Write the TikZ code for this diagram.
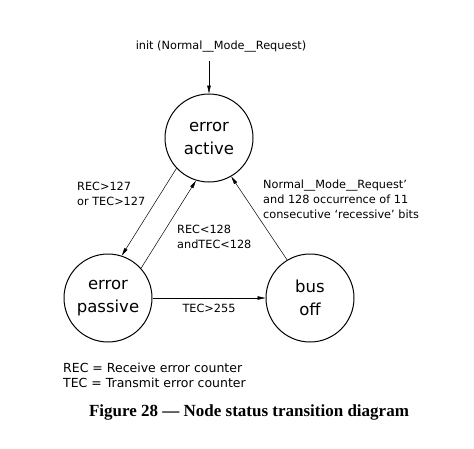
\documentclass[tikz,border=0pt]{standalone}
\usepackage{fontspec}
\setmainfont{Liberation Serif}
\newfontfamily\isofont{DejaVu Sans}
\usetikzlibrary{arrows.meta, positioning}
\tikzset{
  state/.style={circle, draw, line width=1pt, minimum size=88pt, inner sep=0pt, align=center, font=\isofont\fontsize{16.5}{23}\selectfont},
  lbl/.style={align=left, font=\isofont\fontsize{11.3}{15}\selectfont, inner sep=0pt},
  arr/.style={-{Triangle[length=8pt, width=3.5pt]}, line width=0.5pt},
}
\begin{document}
\begin{tikzpicture}[x=1pt, y=-1pt]
  \useasboundingbox (0,0) rectangle (474,448);
  % states
  \node[state] (active) at (209,138) {error\\active};
  \node[state] (passive) at (108,298) {error\\passive};
  \node[state] (busoff) at (310,298) {bus\\off};
  \node[lbl, anchor=south] (init) at (221,52) {init (Normal\_\_Mode\_\_Request)};
  % transitions
  \draw[arr] ([yshift=-9pt]init.south -| active.north) -- (active.north);
  \draw[arr] (active.223) -- (passive.72);
  \draw[arr] (passive.42) -- (active.253);
  \draw[arr] (busoff.121) -- (active.300);
  \draw[arr] (passive) -- (busoff);
  % labels
  \node[lbl, anchor=north west] (toPassive) at (77,182) {REC>127\\or TEC>127};
  \node[lbl, anchor=north west] (toActive) at (177,225) {REC<128\\andTEC<128};
  \node[lbl, anchor=north west] (recover) at (263,180) {Normal\_\_Mode\_\_Request’\\and 128 occurrence of 11\\consecutive ‘recessive’ bits};
  \node[lbl, anchor=north] (toBusoff) at (209,304) {TEC>255};
  \node[lbl, anchor=north west, font=\isofont\fontsize{12.5}{15}\selectfont] (legend) at (63,363) {REC = Receive error counter\\TEC = Transmit error counter};
  \node[font=\bfseries\fontsize{17}{19}\selectfont] (caption) at (249,412) {Figure 28 — Node status transition diagram};
\end{tikzpicture}
\end{document}
